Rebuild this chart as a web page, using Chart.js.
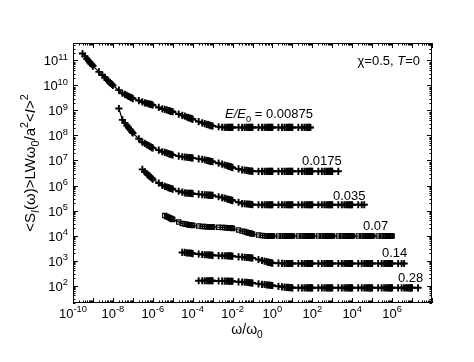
<!DOCTYPE html>
<html>
<head>
<meta charset="utf-8">
<script src="https://cdn.jsdelivr.net/npm/chart.js@4.4.1/dist/chart.umd.min.js"></script>
<style>
html, body { margin: 0; padding: 0; background: #fff; }
canvas { display: block; }
</style>
</head>
<body>
<canvas id="noiseChart" width="474" height="362"></canvas>
<script>
//frequency grid omega/omega0 (1..9 per decade)
const omega = [
  1e-10,2e-10,3e-10,4e-10,5e-10,6e-10,7e-10,8e-10,9e-10,
  1e-9,2e-9,3e-9,4e-9,5e-9,6e-9,7e-9,8e-9,9e-9,
  1e-8,2e-8,3e-8,4e-8,5e-8,6e-8,7e-8,8e-8,9e-8,
  1e-7,2e-7,3e-7,4e-7,5e-7,6e-7,7e-7,8e-7,9e-7,
  1e-6,2e-6,3e-6,4e-6,5e-6,6e-6,7e-6,8e-6,9e-6,
  1e-5,2e-5,3e-5,4e-5,5e-5,6e-5,7e-5,8e-5,9e-5,
  1e-4,2e-4,3e-4,4e-4,5e-4,6e-4,7e-4,8e-4,9e-4,
  1e-3,2e-3,3e-3,4e-3,5e-3,6e-3,7e-3,8e-3,9e-3,
  1e-2,2e-2,3e-2,4e-2,5e-2,6e-2,7e-2,8e-2,9e-2,
  1e-1,2e-1,3e-1,4e-1,5e-1,6e-1,7e-1,8e-1,9e-1,
  1,2,3,4,5,6,7,8,9,
  10,20,30,40,50,60,70,80,90,
  100,200,300,400,500,600,700,800,900,
  1e3,2e3,3e3,4e3,5e3,6e3,7e3,8e3,9e3,
  1e4,2e4,3e4,4e4,5e4,6e4,7e4,8e4,9e4,
  1e5,2e5,3e5,4e5,5e5,6e5,7e5,8e5,9e5,
  1e6,2e6,3e6,4e6,5e6,6e6,7e6,8e6,9e6,
  1e7,2e7,3e7,4e7,5e7,6e7,7e7,8e7,9e7
];

//E/E0 values (one curve each) and where on the grid each curve starts
const energyLabels = ['0.00875', '0.0175', '0.035', '0.07', '0.14', '0.28'];
const firstOmega = [3e-10, 2e-8, 3e-7, 4e-6, 3e-5, 2e-4];

//noise spectrum values
const s00875 = [
  1.9e11,1.45e11,1.15e11,9.8e10,8.3e10,7.4e10,6.8e10,
  6.0e10,3.5e10,2.6e10,2.1e10,1.7e10,1.5e10,1.3e10,1.2e10,1.1e10,
  1.0e10,6.5e9,4.9e9,4.4e9,4.0e9,3.7e9,3.5e9,3.3e9,3.2e9,
  3.0e9,2.5e9,2.2e9,2.0e9,1.95e9,1.86e9,1.8e9,1.74e9,1.7e9,
  1.66e9,1.32e9,1.15e9,1.1e9,1.05e9,1.0e9,9.6e8,9.3e8,9.1e8,
  8.9e8,7.2e8,6.4e8,5.9e8,5.5e8,5.2e8,5.0e8,4.8e8,4.6e8,
  4.5e8,3.6e8,3.2e8,3.0e8,2.8e8,2.7e8,2.6e8,2.5e8,2.45e8,
  2.4e8,2.24e8,2.14e8,2.1e8,2.1e8,2.1e8,2.1e8,2.1e8,2.1e8,
  2.1e8,2.1e8,2.1e8,2.1e8,2.1e8,2.1e8,2.1e8,2.1e8,2.1e8,
  2.1e8,2.1e8,2.1e8,2.1e8,2.1e8,2.1e8,2.1e8,2.1e8,2.1e8,
  2.1e8,2.1e8,2.1e8,2.1e8,2.1e8,2.1e8,2.1e8,2.1e8,2.1e8,
  2.1e8,2.1e8,2.1e8,2.1e8,2.1e8,2.1e8,2.1e8,2.1e8
];
const s0175 = [
  1.2e9,4.2e8,3.2e8,2.5e8,2.1e8,1.8e8,1.6e8,1.4e8,
  1.26e8,7.4e7,5.4e7,4.8e7,4.3e7,4.0e7,3.7e7,3.5e7,3.3e7,
  3.2e7,2.6e7,2.24e7,2.1e7,2.0e7,1.9e7,1.8e7,1.78e7,1.7e7,
  1.66e7,1.5e7,1.41e7,1.38e7,1.35e7,1.32e7,1.32e7,1.29e7,1.26e7,
  1.26e7,1.17e7,1.12e7,1.07e7,1.02e7,9.8e6,9.5e6,9.3e6,9.1e6,
  8.9e6,7.8e6,7.1e6,6.6e6,6.3e6,6.0e6,5.8e6,5.6e6,5.4e6,
  5.2e6,4.6e6,4.2e6,4.1e6,4.0e6,3.9e6,3.8e6,3.8e6,3.8e6,
  3.7e6,3.7e6,3.7e6,3.7e6,3.7e6,3.7e6,3.7e6,3.7e6,3.7e6,
  3.7e6,3.7e6,3.7e6,3.7e6,3.7e6,3.7e6,3.7e6,3.7e6,3.7e6,
  3.7e6,3.7e6,3.7e6,3.7e6,3.7e6,3.7e6,3.7e6,3.7e6,3.7e6,
  3.7e6,3.7e6,3.7e6,3.7e6,3.7e6,3.7e6,3.7e6,3.7e6,3.7e6,
  3.7e6,3.7e6
];
const s035 = [
  4.4e6,3.5e6,3.0e6,2.6e6,2.3e6,2.1e6,1.95e6,
  1.78e6,1.26e6,1.02e6,9.3e5,8.7e5,8.3e5,7.9e5,7.6e5,7.4e5,
  7.1e5,5.9e5,5.4e5,5.1e5,5.0e5,4.9e5,4.9e5,4.8e5,4.8e5,
  4.7e5,4.5e5,4.3e5,4.2e5,4.2e5,4.1e5,4.1e5,4.0e5,4.0e5,
  4.0e5,3.55e5,3.3e5,3.1e5,2.95e5,2.8e5,2.75e5,2.6e5,2.6e5,
  2.5e5,2.14e5,1.9e5,1.86e5,1.82e5,1.82e5,1.78e5,1.78e5,1.74e5,
  1.7e5,1.7e5,1.7e5,1.7e5,1.7e5,1.7e5,1.7e5,1.7e5,1.7e5,
  1.7e5,1.7e5,1.7e5,1.7e5,1.7e5,1.7e5,1.7e5,1.7e5,1.7e5,
  1.7e5,1.7e5,1.7e5,1.7e5,1.7e5,1.7e5,1.7e5,1.7e5,1.7e5,
  1.7e5,1.7e5,1.7e5,1.7e5,1.7e5,1.7e5,1.7e5,1.7e5,1.7e5,
  1.7e5,1.7e5,1.7e5,1.7e5,1.7e5,1.7e5,1.7e5,1.7e5,1.7e5,
  1.7e5,1.7e5,1.7e5,1.7e5
];
const s07 = [
  6.3e4,5.8e4,5.4e4,5.1e4,4.8e4,4.6e4,
  4.4e4,3.5e4,3.0e4,2.9e4,2.8e4,2.7e4,2.6e4,2.6e4,2.6e4,
  2.5e4,2.4e4,2.3e4,2.3e4,2.24e4,2.24e4,2.24e4,2.24e4,2.2e4,
  2.2e4,2.14e4,2.1e4,2.1e4,2.04e4,2.04e4,2.0e4,2.0e4,1.95e4,
  1.9e4,1.66e4,1.5e4,1.45e4,1.35e4,1.29e4,1.26e4,1.23e4,1.17e4,
  1.15e4,1.05e4,1.0e4,9.8e3,9.8e3,9.6e3,9.6e3,9.6e3,9.6e3,
  9.5e3,9.5e3,9.5e3,9.5e3,9.5e3,9.5e3,9.5e3,9.5e3,9.5e3,
  9.5e3,9.5e3,9.5e3,9.5e3,9.5e3,9.5e3,9.5e3,9.5e3,9.5e3,
  9.5e3,9.5e3,9.5e3,9.5e3,9.5e3,9.5e3,9.5e3,9.5e3,9.5e3,
  9.5e3,9.5e3,9.5e3,9.5e3,9.5e3,9.5e3,9.5e3,9.5e3,9.5e3,
  9.5e3,9.5e3,9.5e3,9.5e3,9.5e3,9.5e3,9.5e3,9.5e3,9.5e3,
  9.5e3,9.5e3,9.5e3,9.5e3,9.5e3,9.5e3,9.5e3,9.5e3,9.5e3,
  9.5e3
];
const s014 = [
  2.1e3,2.1e3,2.04e3,2.0e3,2.0e3,1.95e3,1.95e3,
  1.9e3,1.82e3,1.74e3,1.7e3,1.7e3,1.66e3,1.66e3,1.66e3,1.62e3,
  1.62e3,1.58e3,1.55e3,1.55e3,1.55e3,1.52e3,1.52e3,1.52e3,1.5e3,
  1.48e3,1.41e3,1.38e3,1.35e3,1.32e3,1.32e3,1.29e3,1.29e3,1.26e3,
  1.26e3,1.1e3,1.0e3,950,910,870,850,830,810,
  790,780,770,760,760,760,760,760,760,
  760,760,760,760,760,760,760,760,760,
  760,760,760,760,760,760,760,760,760,
  760,760,760,760,760,760,760,760,760,
  760,760,760,760,760,760,760,760,760,
  760,760,760,760,760,760,760,760,760,
  760,760,760,760
];
const s028 = [
  155,155,155,155,155,155,155,155,
  155,152,150,150,150,150,148,148,148,
  148,141,138,135,135,132,129,129,126,
  126,117,112,110,107,105,105,102,100,
  100,93,89,87,85,85,83,83,83,
  81,81,81,81,81,81,81,81,81,
  81,81,81,81,81,81,81,81,81,
  81,81,81,81,81,81,81,81,81,
  81,81,81,81,81,81,81,81,81,
  81,81,81,81,81,81,81,81,81,
  81,81,81,81,81,81,81,81,81,
  81,81
];
const seriesValues = [s00875, s0175, s035, s07, s014, s028];

//axis tick labels (powers of ten)
const xTickExp = [-10, -8, -6, -4, -2, 0, 2, 4, 6];
const yTickExp = [2, 3, 4, 5, 6, 7, 8, 9, 10, 11];

const FONT = '"Liberation Sans", Arial, Helvetica, sans-serif';

//draws text made of pieces: '' normal, 'i' italic, 'sub', 'sup', 'subi'
function drawRich(ctx, parts, x, y, size, align) {
  const small = size * 0.72;
  const fontFor = kind => {
    const sz = (kind === 'sub' || kind === 'sup' || kind === 'subi') ? small : size;
    const it = (kind === 'i' || kind === 'subi') ? 'italic ' : '';
    return it + sz + 'px ' + FONT;
  };
  let total = 0;
  parts.forEach(p => { ctx.font = fontFor(p[1]); total += ctx.measureText(p[0]).width; });
  let cx = align === 'center' ? x - total / 2 : align === 'right' ? x - total : x;
  ctx.textAlign = 'left';
  ctx.textBaseline = 'alphabetic';
  parts.forEach(p => {
    ctx.font = fontFor(p[1]);
    let dy = 0;
    if (p[1] === 'sup') dy = -size * 0.45;
    if (p[1] === 'sub' || p[1] === 'subi') dy = size * 0.28;
    ctx.fillText(p[0], cx, y + dy);
    cx += ctx.measureText(p[0]).width;
  });
}

//frame, inward ticks, tick labels and text
const decorations = {
  id: 'decorations',
  afterDraw(chart) {
    const {ctx, chartArea: a, scales: {x, y}} = chart;
    ctx.save();
    ctx.strokeStyle = '#000';
    ctx.fillStyle = '#000';
    ctx.lineWidth = 1;
    ctx.strokeRect(a.left + 0.5, a.top + 0.5, a.right - a.left - 1, a.bottom - a.top - 1);

    ctx.beginPath();
    for (let e = -10; e <= 8; e++) {
      for (let m = 1; m <= 9; m++) {
        const v = m * Math.pow(10, e);
        if (v < x.min || v > x.max) continue;
        const px = Math.round(x.getPixelForValue(v)) + 0.5;
        const len = m === 1 ? 5 : 2.5;
        ctx.moveTo(px, a.bottom); ctx.lineTo(px, a.bottom - len);
        ctx.moveTo(px, a.top); ctx.lineTo(px, a.top + len);
      }
    }
    for (let e = 1; e <= 11; e++) {
      for (let m = 1; m <= 9; m++) {
        const v = m * Math.pow(10, e);
        if (v < y.min || v > y.max) continue;
        const py = Math.round(y.getPixelForValue(v)) + 0.5;
        const len = m === 1 ? 5 : 2.5;
        ctx.moveTo(a.left, py); ctx.lineTo(a.left + len, py);
        ctx.moveTo(a.right, py); ctx.lineTo(a.right - len, py);
      }
    }
    ctx.stroke();

    xTickExp.forEach(e => {
      const px = x.getPixelForValue(Math.pow(10, e));
      drawRich(ctx, [['10', ''], [String(e), 'sup']], px, a.bottom + 15, 13, 'center');
    });
    yTickExp.forEach(e => {
      const py = y.getPixelForValue(Math.pow(10, e));
      drawRich(ctx, [['10', ''], [String(e), 'sup']], a.left - 5, py + 5, 13, 'right');
    });

    //axis titles
    drawRich(ctx, [['\u03c9/\u03c9', ''], ['0', 'sub']], 247, 334, 14, 'center');
    ctx.save();
    ctx.translate(35, 163);
    ctx.rotate(-Math.PI / 2);
    drawRich(ctx, [['<S', ''], ['I', 'subi'], ['(\u03c9)>LW\u03c9', ''], ['0', 'sub'], ['/a', ''], ['2', 'sup'],
      ['<', ''], ['I', 'i'], ['>', ''], ['2', 'sup']], 0, 0, 15, 'center');
    ctx.restore();

    //curve labels
    drawRich(ctx, [['E/E', 'i'], ['0', 'sub'], [' = ' + energyLabels[0], '']], 225, 118, 13, 'left');
    const labelPos = [null, [302, 165], [333, 200], [363, 230], [382, 257], [398, 282]];
    for (let k = 1; k < energyLabels.length; k++) {
      drawRich(ctx, [[energyLabels[k], '']], labelPos[k][0], labelPos[k][1], 13, 'left');
    }
    drawRich(ctx, [['\u03c7=0.5, ', ''], ['T', 'i'], ['=0', '']], 420, 65, 13, 'right');
    ctx.restore();
  }
};

const datasets = seriesValues.map((ys, k) => {
  const i0 = omega.indexOf(firstOmega[k]);
  const isBox = k === 3; //0.07 curve is drawn with boxes
  return {
    label: energyLabels[k],
    data: ys.map((v, j) => ({x: omega[i0 + j], y: v})),
    showLine: true,
    borderColor: '#000',
    borderWidth: 1.2,
    pointStyle: isBox ? 'rect' : 'cross',
    pointRadius: isBox ? 3 : 3.6,
    pointBorderWidth: isBox ? 1.2 : 1.9,
    pointBorderColor: '#000',
    pointBackgroundColor: 'rgba(0,0,0,0)'
  };
});

new Chart(document.getElementById('noiseChart'), {
  type: 'scatter',
  data: {datasets: datasets},
  options: {
    responsive: false,
    animation: false,
    events: [],
    layout: {padding: {left: 73, right: 42, top: 43, bottom: 59}},
    scales: {
      x: {type: 'logarithmic', min: 1e-10, max: 1e8, display: false},
      y: {type: 'logarithmic', min: 20, max: 5e11, display: false}
    },
    plugins: {
      legend: {display: false},
      tooltip: {enabled: false}
    }
  },
  plugins: [decorations]
});
</script>
</body>
</html>
